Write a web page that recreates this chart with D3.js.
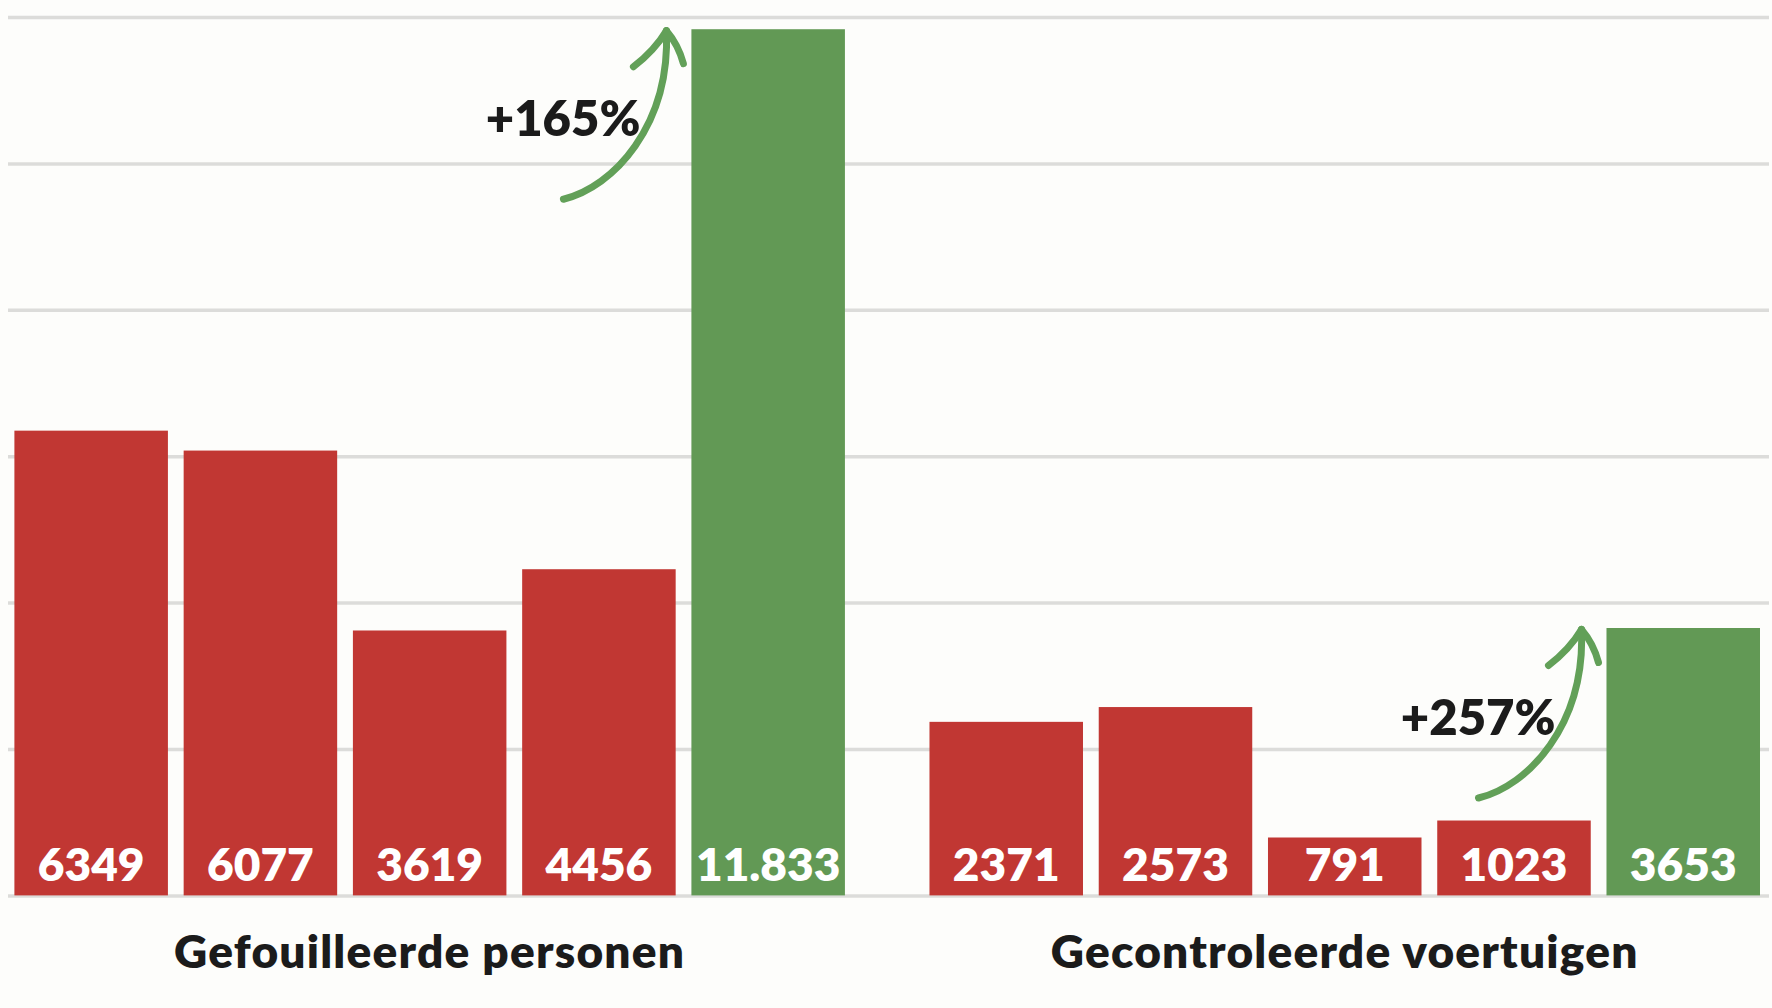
<!DOCTYPE html>
<html>
<head>
<meta charset="utf-8">
<script src="https://cdn.jsdelivr.net/npm/d3@7"></script>
<style>
  html, body { margin: 0; padding: 0; background: #fdfdfb; }
  svg { display: block; }
</style>
</head>
<body>
<svg id="chart" width="1772" height="1008"></svg>
<script>
// ---- data ----
const groups = ["Gefouilleerde personen", "Gecontroleerde voertuigen"];
const periods = ["p1", "p2", "p3", "p4", "p5"];
const personen = [6349, 6077, 3619, 4456, 11833];
const voertuigen = [2371, 2573, 791, 1023, 3653];
const valueLabels = [
  ["6349", "6077", "3619", "4456", "11.833"],
  ["2371", "2573", "791", "1023", "3653"]
];
const highlight = ["p5"];
const increases = ["+165%", "+257%"];
const yTicks = [0, 2000, 4000, 6000, 8000, 10000, 12000];

const series = [personen, voertuigen];

// ---- layout ----
const svg = d3.select("#chart");
const RED = "#c13733", GREEN = "#629955", ARROW = "#62a058";
const FONT = "Lato, 'Open Sans', sans-serif";

const y = d3.scaleLinear().domain([0, 12000]).range([895.4, 17]);
const x0 = d3.scaleBand().domain(groups).range([14.4, 1760]).paddingInner(0.0924).paddingOuter(0);
const x1 = d3.scaleBand().domain(periods).range([0, x0.bandwidth()]).paddingInner(0.093).paddingOuter(0);

// gridlines
const yAxis = d3.axisLeft(y).tickValues(yTicks).tickSize(-(1769 - 8)).tickFormat("");
const gAxis = svg.append("g").attr("transform", "translate(8,0)").call(yAxis);
gAxis.select(".domain").remove();
gAxis.selectAll(".tick line").attr("stroke", "#dcdcda").attr("stroke-width", 3.5);

// bars
groups.forEach((g, gi) => {
  const grp = svg.append("g").attr("transform", `translate(${x0(g)},0)`);
  const data = periods.map((p, i) => ({ p, v: series[gi][i], label: valueLabels[gi][i] }));
  grp.selectAll("rect").data(data).enter().append("rect")
    .attr("x", d => x1(d.p))
    .attr("y", d => y(d.v))
    .attr("width", x1.bandwidth())
    .attr("height", d => y(0) - y(d.v))
    .attr("fill", d => highlight.includes(d.p) ? GREEN : RED);
  grp.selectAll("text.val").data(data).enter().append("text")
    .attr("class", "val")
    .attr("x", d => x1(d.p) + x1.bandwidth() / 2)
    .attr("y", y(0) - 14)
    .attr("text-anchor", "middle")
    .attr("fill", "#ffffff")
    .attr("font-family", FONT)
    .attr("font-weight", 800)
    .attr("font-size", 46)
    .text(d => d.label);

  // group label
  svg.append("text")
    .attr("x", x0(g) + x0.bandwidth() / 2)
    .attr("y", 968)
    .attr("text-anchor", "middle")
    .attr("fill", "#1b1b1b")
    .attr("font-family", FONT)
    .attr("font-weight", 800)
    .attr("font-size", 46)
    .attr("letter-spacing", 1.2)
    .text(g);

  // annotation arrow & text relative to highlighted bar
  const hp = highlight[0];
  const hi = periods.indexOf(hp);
  const bx = x0(g) + x1(hp);
  const by = y(series[gi][hi]);
  const tail = [bx - 128, by + 170];
  const tip = [bx - 25, by + 1.5];
  const a = svg.append("g").attr("fill", "none").attr("stroke", ARROW)
    .attr("stroke-width", 7).attr("stroke-linecap", "round").attr("stroke-linejoin", "round");
  a.append("path").attr("d",
    `M${tail[0]},${tail[1]} C${tail[0] + 50},${tail[1] - 12} ${tip[0] + 4},${tip[1] + 95} ${tip[0]},${tip[1]}`);
  // arrowhead wings
  a.append("path").attr("d",
    `M${tip[0] - 33},${tip[1] + 36} Q${tip[0] - 12},${tip[1] + 20} ${tip[0]},${tip[1]}`);
  a.append("path").attr("d",
    `M${tip[0]},${tip[1]} Q${tip[0] + 12},${tip[1] + 14} ${tip[0] + 17},${tip[1] + 33}`);

  svg.append("text")
    .attr("x", bx - 51)
    .attr("y", by + 107)
    .attr("text-anchor", "end")
    .attr("fill", "#1b1b1b")
    .attr("font-family", FONT)
    .attr("font-weight", 800)
    .attr("font-size", 49)
    .text(increases[gi]);
});
</script>
</body>
</html>
